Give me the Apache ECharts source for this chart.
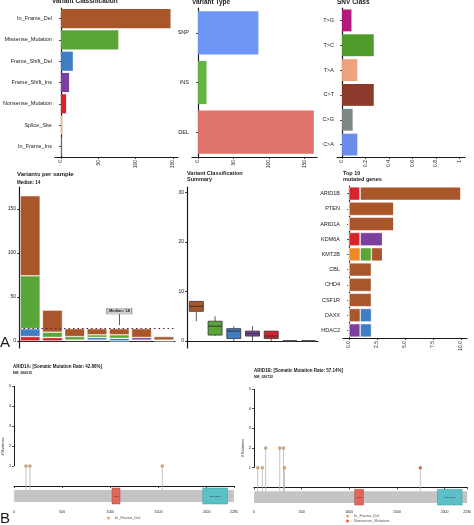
<!DOCTYPE html>
<html>
<head>
<meta charset="utf-8">
<script src="https://cdn.jsdelivr.net/npm/echarts@6/dist/echarts.min.js"></script>
<style>
  html, body { margin: 0; padding: 0; background: #fff; }
  #chart { width: 474px; height: 525px; }
</style>
</head>
<body>
<div id="chart"></div>
<script>
// ---- data ----
const vcClasses = ['In_Frame_Del', 'Missense_Mutation', 'Frame_Shift_Del', 'Frame_Shift_Ins', 'Nonsense_Mutation', 'Splice_Site', 'In_Frame_Ins'];
const vcCounts = [147, 77, 16, 11, 7, 2, 1];

const vtTypes = ['SNP', 'INS', 'DEL'];
const vtCounts = [85, 12, 163];

const snvClasses = ['T>G', 'T>C', 'T>A', 'C>T', 'C>G', 'C>A'];
const snvFrac = [0.08, 0.27, 0.13, 0.27, 0.09, 0.13];

// variants per sample, stacked bottom -> top
const samples = ['S1', 'S2', 'S3', 'S4', 'S5', 'S6', 'S7'];
const vpsNonsense = [5, 4, 1, 1, 0, 1, 0];
const vpsFsDel = [9, 0, 0, 3, 3, 0, 1];
const vpsFsIns = [0, 0, 0, 0, 0, 3, 0];
const vpsMissense = [60, 6, 4, 3, 4, 0, 0];
const vpsInFrameDel = [91, 25, 9, 7, 7, 10, 4];
const medianVariants = 14;

// variant classification summary: [min, Q1, median, Q3, max]
const vcsBoxes = [
  [4, 6, 7, 8, 8],
  [1, 1.2, 3, 4, 5],
  [0, 0.5, 2, 2.5, 3],
  [0, 1, 1.5, 2, 3],
  [0, 0.5, 1, 2, 2],
  [0, 0, 0, 0, 0],
  [0, 0, 0, 0, 0]
];

// top 10 mutated genes, stacked left -> right
const genes = ['ARID1B', 'PTEN', 'ARID1A', 'KDM6A', 'KMT2B', 'CBL', 'CHD4', 'CSF1R', 'DAXX', 'HDAC2'];
const gNonsense = [1, 0, 0, 1, 0, 0, 0, 0, 0, 0];
const gSplice = [0, 0, 0, 0, 1, 0, 0, 0, 0, 0];
const gMissense = [0, 0, 0, 0, 1, 0, 0, 0, 0, 0];
const gFsIns = [0, 0, 0, 2, 0, 0, 0, 0, 0, 1];
const gInFrameDel = [9, 4, 4, 0, 1, 2, 2, 2, 1, 0];
const gFsDel = [0, 0, 0, 0, 0, 0, 0, 0, 1, 1];

// lollipops
const arid1aLen = 2285;
const arid1aDomains = [[1017, 1100, 'ARID'], [1960, 2218, 'DUF3518']];
const arid1aInFrameDel = [[123, 1], [164, 1], [1540, 1]];
const arid1bLen = 2236;
const arid1bDomains = [[1056, 1149, 'ARID'], [1925, 2184, 'DUF3518']];
const arid1bInFrameDel = [[40, 1], [88, 1], [122, 2], [270, 2], [310, 2], [320, 1]];
const arid1bNonsense = [[1745, 1]];

// ---- colours ----
const C = {
  ifd: '#A9562B', mis: '#5AA537', fsd: '#3F7DC4', fsi: '#7B3FA0',
  non: '#D7232A', spl: '#F08A24', ifi: '#C98AA0'
};
const vcColors = [C.ifd, C.mis, C.fsd, C.fsi, C.non, '#F2B486', C.ifi];
const vtColors = ['#6E97F5', '#63B444', '#E0736A'];
const snvColors = ['#B5187C', '#4E9A2A', '#EFA27E', '#8B3A2C', '#7E8784', '#6C8CEC'];

const FONT = 'Liberation Sans, Arial, Helvetica, sans-serif';
const INK = '#1a1a1a';
const axLine = {show: true, lineStyle: {color: INK, width: 1.2}};

function valTicks(vals) {
  return {show: true, length: 2, customValues: vals, lineStyle: {color: INK, width: 0.8}};
}
function valLabels(vals, size, rotate, fmt) {
  return {customValues: vals, fontSize: size, rotate: rotate || 0, margin: 3, color: INK,
    fontFamily: FONT, formatter: fmt || (v => String(v))};
}
function catAxis(grid, data, inverse) {
  return {
    gridIndex: grid, type: 'category', data: data, inverse: !!inverse,
    axisLine: axLine,
    axisTick: {show: true, length: 2, alignWithLabel: true, lineStyle: {color: INK, width: 0.8}},
    axisLabel: {fontSize: 5.5, color: INK, margin: 3, fontFamily: FONT},
    splitLine: {show: false}
  };
}
function valAxis(grid, min, max, vals, rotate, fmt, size) {
  return {
    gridIndex: grid, type: 'value', min: min, max: max,
    axisLine: axLine, axisTick: valTicks(vals),
    axisLabel: valLabels(vals, size || 5, rotate, fmt),
    splitLine: {show: false}
  };
}

function titleAt(text, left, top, size, weight) {
  return {text: text, left: left, top: top, padding: 0,
    textStyle: {fontSize: size, fontWeight: weight || 'bold', color: INK, fontFamily: FONT, lineHeight: size + 1}};
}

// protein backbone + domains drawn through the lollipop axes
function proteinSeries(xi, len, domains) {
  return [{
    type: 'custom', xAxisIndex: xi, yAxisIndex: xi, silent: true, z: 1,
    data: [[0, len]],
    renderItem: function (params, api) {
      const a = api.coord([api.value(0), -0.2]);
      const b = api.coord([api.value(1), -0.8]);
      return {type: 'rect', shape: {x: a[0], y: a[1], width: b[0] - a[0], height: b[1] - a[1]},
        style: {fill: '#C4C4C4'}};
    }
  }, {
    type: 'custom', xAxisIndex: xi, yAxisIndex: xi, silent: true, z: 2,
    data: domains.map((d, i) => [d[0], d[1], i]),
    renderItem: function (params, api) {
      const a = api.coord([api.value(0), -0.1]);
      const b = api.coord([api.value(1), -0.9]);
      const first = api.value(2) === 0;
      return {type: 'group', children: [
        {type: 'rect', shape: {x: a[0], y: a[1], width: b[0] - a[0], height: b[1] - a[1]},
          style: {fill: first ? '#E0675C' : '#5BC0C8', stroke: first ? '#b8483f' : '#3f9aa2', lineWidth: 0.5}},
        {type: 'text', style: {text: domains[params.dataIndex][2], x: (a[0] + b[0]) / 2, y: (a[1] + b[1]) / 2,
          align: 'center', verticalAlign: 'middle', fontSize: 2.5, fill: '#333', fontFamily: FONT}}
      ]};
    }
  }];
}
function lollipopSeries(xi, name, data, color) {
  return {
    type: 'custom', name: name, xAxisIndex: xi, yAxisIndex: xi, z: 3,
    data: data,
    renderItem: function (params, api) {
      const top = api.coord([api.value(0), api.value(1)]);
      const base = api.coord([api.value(0), -0.2]);
      return {type: 'group', children: [
        {type: 'line', shape: {x1: base[0], y1: base[1], x2: top[0], y2: top[1]}, style: {stroke: '#b5b5b5', lineWidth: 0.8}},
        {type: 'circle', shape: {cx: top[0], cy: top[1], r: 1.5}, style: {fill: color, stroke: '#888', lineWidth: 0.4}}
      ]};
    }
  };
}
function yAxisLineSeries(xi) {
  // ggplot draws the # Mutations axis line only from 1 to 5
  return {
    type: 'line', xAxisIndex: xi, yAxisIndex: xi, data: [], silent: true,
    markLine: {symbol: 'none', silent: true, label: {show: false},
      lineStyle: {color: INK, width: 1, type: 'solid'},
      data: [[{coord: [0, 1]}, {coord: [0, 5]}]]}
  };
}

function stackedBar(name, stack, xi, data, color, horiz) {
  return {
    type: 'bar', name: name, stack: stack, xAxisIndex: xi, yAxisIndex: xi,
    data: data,
    barWidth: horiz ? undefined : 20, barCategoryGap: '12%',
    itemStyle: {color: color, borderColor: '#fff', borderWidth: 0.5}
  };
}

// ggplot style boxplot (no whisker caps)
const boxSeries = {
  type: 'custom', xAxisIndex: 4, yAxisIndex: 4, z: 3,
  data: vcsBoxes.map((b, i) => [i].concat(b)),
  renderItem: function (params, api) {
    const i = api.value(0);
    const w = 7;
    const pMin = api.coord([i, api.value(1)]);
    const pQ1 = api.coord([i, api.value(2)]);
    const pMed = api.coord([i, api.value(3)]);
    const pQ3 = api.coord([i, api.value(4)]);
    const pMax = api.coord([i, api.value(5)]);
    const x = pMed[0];
    const stroke = {stroke: '#333', lineWidth: 0.8};
    return {type: 'group', children: [
      {type: 'line', shape: {x1: x, y1: pQ3[1], x2: x, y2: pMax[1]}, style: stroke},
      {type: 'line', shape: {x1: x, y1: pQ1[1], x2: x, y2: pMin[1]}, style: stroke},
      {type: 'rect', shape: {x: x - w, y: pQ3[1], width: 2 * w, height: pQ1[1] - pQ3[1]},
        style: {fill: vcColors[i], stroke: '#333', lineWidth: 0.8}},
      {type: 'line', shape: {x1: x - w, y1: pMed[1], x2: x + w, y2: pMed[1]}, style: {stroke: '#333', lineWidth: 1}}
    ]};
  }
};

const option = {
  animation: false,
  backgroundColor: '#fff',
  textStyle: {fontFamily: FONT},
  title: [
    titleAt('Variant Classification', 52, -3, 6.5),
    titleAt('Variant Type', 192, -2, 6.5),
    titleAt('SNV Class', 337, -2, 6.5),
    titleAt('Variants per sample', 17, 171, 6),
    titleAt('Median: 14', 17, 180, 4.5),
    titleAt('Variant Classification\nSummary', 187, 170, 5.5),
    titleAt('Top 10\nmutated genes', 343, 170, 5.5),
    titleAt('ARID1A: [Somatic Mutation Rate: 42.86%]', 13, 364, 4.5),
    titleAt('NM_006015', 13, 371, 3.5),
    titleAt('ARID1B: [Somatic Mutation Rate: 57.14%]', 254, 368, 4.5),
    titleAt('NM_020732', 254, 375, 3.5),
    titleAt('A', 0, 335, 15, 'normal'),
    titleAt('B', 0, 511, 15, 'normal')
  ],
  grid: [
    {left: 52, top: 8, width: 126, height: 149},
    {left: 192, top: 8, width: 125, height: 149},
    {left: 337, top: 8, width: 128, height: 149},
    {left: 19, top: 187, width: 156, height: 161},
    {left: 187, top: 187, width: 131, height: 161},
    {left: 343, top: 186, width: 124, height: 152},
    {left: 13, top: 386, width: 221, height: 121},
    {left: 254, top: 389, width: 216, height: 118}
  ],
  legend: [
    {left: 107, top: 516, icon: 'circle', itemWidth: 3, itemHeight: 3, itemGap: 1, padding: 0,
      selectedMode: false, textStyle: {fontSize: 4, color: '#555', fontFamily: FONT},
      data: [{name: 'In_Frame_Del', itemStyle: {color: '#E3A869'}}]},
    {left: 346, top: 514, orient: 'vertical', icon: 'circle', itemWidth: 3, itemHeight: 3, itemGap: 1, padding: 0,
      selectedMode: false, textStyle: {fontSize: 4, color: '#555', fontFamily: FONT},
      data: [{name: 'In_Frame_Del', itemStyle: {color: '#E3A869'}},
             {name: 'Nonsense_Mutation', itemStyle: {color: '#E0603A'}}]}
  ],
  xAxis: [
    valAxis(0, -8, 157, [0, 50, 100, 150], 90),
    valAxis(1, -8.5, 167.5, [0, 50, 100, 150], 90),
    valAxis(2, -0.043, 1.047, [0, 0.2, 0.4, 0.6, 0.8, 1], 90),
    {gridIndex: 3, type: 'category', data: samples, axisLine: axLine,
      axisTick: {show: false}, axisLabel: {show: false}, splitLine: {show: false}},
    {gridIndex: 4, type: 'category', data: vcClasses, axisLine: axLine,
      axisTick: {show: false}, axisLabel: {show: false}, splitLine: {show: false}},
    valAxis(5, -0.54, 10.54, [0, 2.5, 5, 7.5, 10], 90, v => v.toFixed(1)),
    valAxis(6, 0, arid1aLen, [0, 500, 1000, 1500, 2000, arid1aLen], 0, null, 3.5),
    valAxis(7, 0, arid1bLen, [0, 500, 1000, 1500, 2000, arid1bLen], 0, null, 3.5)
  ],
  yAxis: [
    catAxis(0, vcClasses, true),
    catAxis(1, vtTypes, true),
    catAxis(2, snvClasses, true),
    valAxis(3, -8, 175, [0, 50, 100, 150], 0),
    valAxis(4, -1.41, 31.1, [0, 10, 20, 30], 0),
    catAxis(5, genes, true),
    Object.assign(valAxis(6, -1.05, 5, [1, 2, 3, 4, 5], 0, null, 4), {
      axisLine: {show: false}, name: '# Mutations', nameLocation: 'middle', nameGap: 7,
      nameRotate: 90, nameTextStyle: {fontSize: 3.5, color: INK, fontFamily: FONT}}),
    Object.assign(valAxis(7, -1.0, 5, [1, 2, 3, 4, 5], 0, null, 4), {
      axisLine: {show: false}, name: '# Mutations', nameLocation: 'middle', nameGap: 7,
      nameRotate: 90, nameTextStyle: {fontSize: 3.5, color: INK, fontFamily: FONT}})
  ],
  series: [
    {type: 'bar', xAxisIndex: 0, yAxisIndex: 0, barCategoryGap: '10%',
      data: vcCounts.map((v, i) => ({value: v, itemStyle: {color: vcColors[i]}}))},
    {type: 'bar', xAxisIndex: 1, yAxisIndex: 1, barCategoryGap: '13%',
      data: vtCounts.map((v, i) => ({value: v, itemStyle: {color: vtColors[i]}}))},
    {type: 'bar', xAxisIndex: 2, yAxisIndex: 2, barCategoryGap: '12%',
      data: snvFrac.map((v, i) => ({value: v, itemStyle: {color: snvColors[i]}}))},

    stackedBar('vps_non', 'vps', 3, vpsNonsense, C.non),
    stackedBar('vps_fsd', 'vps', 3, vpsFsDel, C.fsd),
    stackedBar('vps_fsi', 'vps', 3, vpsFsIns, C.fsi),
    stackedBar('vps_mis', 'vps', 3, vpsMissense, C.mis),
    Object.assign(stackedBar('vps_ifd', 'vps', 3, vpsInFrameDel, C.ifd), {
      markLine: {symbol: 'none', silent: true, label: {show: false}, z: 10,
        lineStyle: {color: '#5a1e3c', width: 1, type: [1.5, 3]},
        data: [
          {yAxis: medianVariants},
          [{coord: [4, 30.5], lineStyle: {type: 'solid', color: '#333', width: 0.8}},
           {coord: [4, 18]}]
        ]},
      markPoint: {silent: true, symbol: 'rect', symbolSize: [25, 6],
        itemStyle: {color: '#cfcfcf', borderColor: '#8a8a8a', borderWidth: 0.5},
        label: {show: true, position: 'inside', formatter: 'Median: ' + medianVariants,
          fontSize: 4, fontWeight: 'bold', color: INK, fontFamily: FONT},
        data: [{coord: [4, 34]}]}
    }),

    boxSeries,

    stackedBar('g_non', 'genes', 5, gNonsense, C.non, true),
    stackedBar('g_spl', 'genes', 5, gSplice, C.spl, true),
    stackedBar('g_mis', 'genes', 5, gMissense, C.mis, true),
    stackedBar('g_fsi', 'genes', 5, gFsIns, C.fsi, true),
    stackedBar('g_ifd', 'genes', 5, gInFrameDel, C.ifd, true),
    stackedBar('g_fsd', 'genes', 5, gFsDel, C.fsd, true)
  ]
    .concat(proteinSeries(6, arid1aLen, arid1aDomains))
    .concat([yAxisLineSeries(6), lollipopSeries(6, 'In_Frame_Del', arid1aInFrameDel, '#E3A869')])
    .concat(proteinSeries(7, arid1bLen, arid1bDomains))
    .concat([yAxisLineSeries(7),
      lollipopSeries(7, 'In_Frame_Del', arid1bInFrameDel, '#E3A869'),
      lollipopSeries(7, 'Nonsense_Mutation', arid1bNonsense, '#E0603A')])
};

const chart = echarts.init(document.getElementById('chart'));
chart.setOption(option);
</script>
</body>
</html>
